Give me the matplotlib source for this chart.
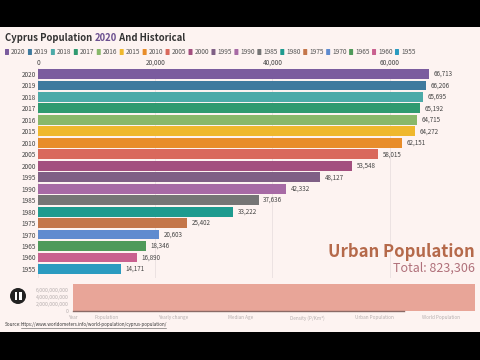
import matplotlib
matplotlib.use('Agg')
import matplotlib.pyplot as plt
from matplotlib.patches import Rectangle, Circle, FancyBboxPatch

plt.rcParams['font.family'] = ['Noto Sans CJK SC', 'DejaVu Sans']

years = ['2020', '2019', '2018', '2017', '2016', '2015', '2010', '2005', '2000',
         '1995', '1990', '1985', '1980', '1975', '1970', '1965', '1960', '1955']
values = [66713, 66206, 65695, 65192, 64715, 64272, 62151, 58015, 53548,
          48127, 42332, 37636, 33222, 25402, 20603, 18346, 16890, 14171]
colors = ['#7b5c9e', '#3f7a9e', '#4caaa8', '#2f9a70', '#88b86a', '#efb82d',
          '#e88d2a', '#d9695c', '#a34f7f', '#7f5f85', '#a76aa5', '#757575',
          '#1e9b8f', '#c4764a', '#5f8bcf', '#4f9a5a', '#c9608f', '#2a9bc0']
x_ticks = [0, 20000, 40000, 60000]

mini_cats = ['Population', 'Yearly change', 'Median Age', 'Density (P/Km²)',
             'Urban Population', 'World Population']
mini_vals = [7.75e9, 7.75e9, 7.75e9, 7.75e9, 7.75e9, 7.75e9]
mini_ticks = [0, 2000000000, 4000000000, 6000000000]

BG = '#fdf3f1'
W, H = 480, 360


def place(fig, left, top, right, bottom):
    # pixel box (y down) to a figure axes
    return fig.add_axes([left / W, 1 - bottom / H, (right - left) / W, (bottom - top) / H])


fig = plt.figure(figsize=(4.8, 3.6), dpi=100, facecolor='black')

# Pixel layer for the page, title, legend and button
page = fig.add_axes([0, 0, 1, 1], zorder=0)
page.set_xlim(0, W)
page.set_ylim(H, 0)
page.axis('off')
page.add_patch(Rectangle((0, 27), W, 305, color=BG, lw=0))

title_parts = [('Cyprus Population ', '#333333'), ('2020', '#6b4f8f'), (' And Historical', '#333333')]
x = 5
for part, col in title_parts:
    t = page.text(x, 38, part, fontsize=6.85, fontweight='bold', color=col, va='center', ha='left')
    ext = t.get_window_extent(fig.canvas.get_renderer())
    x = ext.x1

for i, (yr, col) in enumerate(zip(years, colors)):
    lx = 5 + i * 22.94
    page.add_patch(FancyBboxPatch((lx + 0.5, 49.5), 3, 5, boxstyle='round,pad=0.5', fc=col, ec='none'))
    page.text(lx + 6, 52.5, yr, fontsize=4.7, color='#555555', va='center', ha='left')

page.add_patch(Circle((18, 296), 8, color='#222222', lw=0))
page.add_patch(Rectangle((14.5, 292), 2.6, 8, color='white', lw=0))
page.add_patch(Rectangle((18.9, 292), 2.6, 8, color='white', lw=0))

page.text(5, 324.5, 'Source:', fontsize=3.4, color='#333333', va='center', ha='left')
page.text(21, 324.5, 'https://www.worldometers.info/world-population/cyprus-population/',
          fontsize=3.2, color='#333333', va='center', ha='left')
page.plot([21, 166], [327.5, 327.5], color='#555555', lw=0.4)

# Main bars
ax = place(fig, 38, 68, 478, 278)
ax.set_zorder(1)
ax.patch.set_alpha(0)
pos = list(range(len(years)))
ax.barh(pos, values, height=0.86, color=colors, zorder=2)
ax.set_ylim(17.79, -0.52)
ax.set_xlim(0, 440 / 117.2 * 20000)
ax.set_yticks(pos, years)
ax.set_xticks(x_ticks, [f'{v:,}' for v in x_ticks])
ax.xaxis.tick_top()
ax.tick_params(axis='both', length=0, labelsize=4.6, labelcolor='#444444', pad=1.5)
ax.tick_params(axis='x', pad=1)
ax.grid(axis='x', color='#e6dcdc', lw=0.5, zorder=0)
for s in ax.spines.values():
    s.set_visible(False)
for p, v in zip(pos, values):
    ax.text(v + 800, p, f'{v:,}', fontsize=4.5, color='#444444', va='center', ha='left')

# Mini chart
mini = place(fig, 73, 284, 475, 311)
mini.set_zorder(1)
mini.patch.set_alpha(0)
mpos = list(range(len(mini_cats)))
mini.bar(mpos, mini_vals, width=1, color='#e8a598', lw=0)
mini.set_xlim(-0.5, 5.5)
mini.set_ylim(0, 7.72e9)
mini.set_xticks([-0.5] + mpos, ['Year'] + mini_cats)
mini.set_yticks(mini_ticks, [f'{v:,}' for v in mini_ticks])
mini.tick_params(axis='x', length=0, labelsize=3.4, labelcolor='#b5aeae', pad=3)
mini.tick_params(axis='y', length=0, labelsize=3.7, labelcolor='#b5aeae', pad=3)
for s in mini.spines.values():
    s.set_visible(False)
mini.plot([-0.5, 4.44], [0, 0], color='#8a6a66', lw=1, clip_on=False)

# Overlay text
page2 = fig.add_axes([0, 0, 1, 1], zorder=2)
page2.set_xlim(0, W)
page2.set_ylim(H, 0)
page2.axis('off')
page2.text(474.5, 252, 'Urban Population', fontsize=12, fontweight='bold', color='#b5694a', va='center', ha='right')
page2.text(474.5, 268, 'Total: 823,306', fontsize=9, color='#b0707a', va='center', ha='right')

plt.savefig('out.png', dpi=100, facecolor='black')
